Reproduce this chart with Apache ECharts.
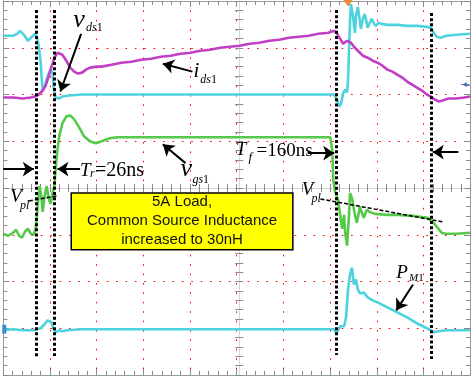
<!DOCTYPE html>
<html>
<head>
<meta charset="utf-8">
<script src="https://cdn.jsdelivr.net/npm/echarts@6/dist/echarts.min.js"></script>
<style>
  html, body { margin: 0; padding: 0; background: #fff; }
  #scope { width: 474px; height: 376px; }
</style>
</head>
<body>
<div id="scope"></div>
<script>
  // scope screen: x = time (0..474, 10 div), y = level (0..376, 8 div, top = 0)
  const vds1 = [[0,35],[5,35],[10,35],[14,33],[17,30],[21,34],[25,40],[28,37],[32,33],[34,36],[36,45],[38,62],[39,78],[40,89],
    [42,86],[44,79],[46,73],[48,69],[50,72],[51,85],[53,97],[55,99],[57,98],[60,96],[67,95],[80,94],[120,94],[200,94],
    [280,94],[336,94],[339,100],[341,106],[343,103],[345,93],[347,89],[349,92],[350,80],[351,50],[352,20],[353,3],[354,2],
    [355,15],[357,32],[358,15],[360,6],[362,20],[363,28],[365,18],[367,13],[369,22],[370,27],[372,22],[374,18],[376,22],
    [378,25],[381,22],[384,23],[390,24],[400,24],[410,25],[420,25],[430,26],[434,27],[437,32],[440,36],[444,37],[450,35],
    [460,34],[474,33]];

  const ids1 = [[0,97],[10,97],[20,98],[28,97],[32,96],[36,94],[40,90],[43,85],[46,76],[49,66],[52,57],[55,52],[57,51],
    [60,54],[64,60],[68,67],[72,71],[76,73],[80,72],[84,69],[88,67],[95,66],[100,66],[110,64],[120,62],[130,61],[140,59],
    [150,58],[160,56],[170,55],[180,53],[190,52],[200,50],[210,49],[220,47],[230,46],[240,45],[250,43],[260,42],[270,40],
    [280,39],[290,37],[300,36],[310,35],[320,33],[330,32],[336,30],[339,33],[342,38],[345,43],[347,45],[349,40],[351,38],
    [353,42],[356,46],[360,50],[365,55],[370,57],[375,60],[380,62],[385,65],[390,69],[395,71],[400,74],[405,77],[410,81],
    [415,84],[420,87],[425,90],[430,94],[434,96],[438,99],[442,101],[446,100],[452,98],[460,98],[468,97],[474,96]];

  const vgs1 = [[0,234],[5,236],[10,233],[13,230],[16,236],[19,238],[22,232],[25,229],[28,234],[31,235],[33,228],[35,205],
    [37,186],[39,200],[40,212],[42,196],[44,186],[46,198],[48,204],[50,193],[52,186],[53,170],[55,150],[57,135],[60,123],
    [64,116],[68,115],[72,119],[77,127],[82,136],[88,141],[94,143],[100,141],[108,138],[116,137],[125,137],[200,137],
    [300,137],[332,137],[334,150],[335,180],[337,192],[340,200],[342,215],[344,229],[346,215],[347,232],[349,246],[351,215],
    [352,193],[354,198],[357,215],[359,223],[362,207],[364,205],[366,218],[369,210],[372,212],[377,214],[390,215],
    [401,215],[415,216],[431,218],[436,222],[441,228],[445,233],[449,234],[460,234],[474,233]];

  const pm1 = [[0,331],[10,330],[20,331],[30,331],[34,330],[38,329],[42,325],[45,321],[47,320],[49,323],[51,330],[54,333],
    [57,331],[60,332],[65,331],[80,330],[150,330],[250,330],[336,330],[338,334],[340,331],[342,327],[344,325],[346,327],
    [348,318],[350,290],[352,275],[354,268],[356,285],[358,280],[360,290],[362,294],[364,296],[366,293],[370,298],
    [375,301],[380,303],[390,308],[400,313],[410,318],[420,324],[430,329],[434,331],[437,333],[442,332],[450,331],[474,331]];

  // cursor instants (switching edges)
  const cursorT = [33, 52, 338, 434];

  const chart = echarts.init(document.getElementById('scope'));

  const tickStyle = { color: '#8a8a8a' };
  const hiddenLabel = { show: true, inside: true, fontSize: 1, color: 'rgba(255,255,255,0)' };

  // grid-only axes: they just carry the dotted division lines
  const xGrid = {
    type: 'value', min: 0, max: 474, interval: 47.4, position: 'bottom',
    axisLine: { show: false, onZero: false }, axisTick: { show: false }, axisLabel: hiddenLabel,
    splitLine: { show: true, lineStyle: { color: 'red', width: 1, type: [1.6, 7.8] } }
  };
  const yGrid = {
    type: 'value', min: 0, max: 376, interval: 47, inverse: true, position: 'left',
    axisLine: { show: false, onZero: false }, axisTick: { show: false }, axisLabel: hiddenLabel,
    splitLine: { show: true, lineStyle: { color: 'red', width: 1, type: [1.6, 7.8] } }
  };

  const xBase = {
    type: 'value', min: 0, max: 474, interval: 47.4,
    axisLabel: { show: false },
    axisLine: { onZero: false, lineStyle: { color: '#9a9a9a', width: 1 } },
    axisTick: { inside: true, length: 6, lineStyle: tickStyle },
    minorTick: { show: true, splitNumber: 5, length: 4, lineStyle: tickStyle },
    splitLine: { show: false }
  };
  const yBase = {
    type: 'value', min: 0, max: 376, interval: 47, inverse: true,
    axisLabel: { show: false },
    axisLine: { onZero: false, lineStyle: { color: '#9a9a9a', width: 1 } },
    axisTick: { inside: true, length: 6, lineStyle: tickStyle },
    minorTick: { show: true, splitNumber: 5, length: 4, lineStyle: tickStyle },
    splitLine: { show: false }
  };

  // frame axes (bottom/top, left/right) + centre cross with ticks on both sides
  const centreLine = { onZero: false, lineStyle: { color: '#d6d6d6' } };
  const xAxes = [
    xGrid,
    Object.assign({}, xBase, { position: 'bottom' }),
    Object.assign({}, xBase, { position: 'top' }),
    Object.assign({}, xBase, { position: 'bottom', offset: -187, axisLine: centreLine,
      axisTick: { inside: true, length: 4, lineStyle: tickStyle } }),
    Object.assign({}, xBase, { position: 'bottom', offset: -187, axisLine: { show: false, onZero: false },
      axisTick: { inside: false, length: 4, lineStyle: tickStyle } })
  ];
  const yAxes = [
    yGrid,
    Object.assign({}, yBase, { position: 'left' }),
    Object.assign({}, yBase, { position: 'right' }),
    Object.assign({}, yBase, { position: 'left', offset: -236, axisLine: centreLine,
      axisTick: { inside: true, length: 4, lineStyle: tickStyle } }),
    Object.assign({}, yBase, { position: 'left', offset: -236, axisLine: { show: false, onZero: false },
      axisTick: { inside: false, length: 4, lineStyle: tickStyle } })
  ];

  const serif = '"Liberation Serif", "DejaVu Serif", serif';

  // a piece of text anchored at its left edge / vertical middle
  function txt(x, y, s, size, italic) {
    return {
      coord: [x, y], symbol: 'circle', symbolSize: 0,
      label: {
        show: true, position: [0, 0], align: 'left', verticalAlign: 'middle',
        formatter: s, fontSize: size, fontFamily: serif, color: '#000',
        fontStyle: italic ? 'italic' : 'normal',
        rich: {
          i: { fontStyle: 'italic', fontFamily: serif, fontSize: size, color: '#000' },
          n: { fontStyle: 'normal', fontFamily: serif, fontSize: size, color: '#000' }
        }
      }
    };
  }
  function seg(x1, y1, x2, y2) {
    return [{ coord: [x1, y1] }, { coord: [x2, y2] }];
  }

  const trace = (name, data, color) => ({
    name, type: 'line', data, showSymbol: false, symbol: 'none',
    lineStyle: { color, width: 2.6 }, itemStyle: { color },
    silent: true, z: 3
  });

  const option = {
    animation: false,
    grid: { left: 1, right: 1, top: 1, bottom: 1 },
    xAxis: xAxes,
    yAxis: yAxes,
    series: [
      trace('vds1', vds1, '#4dd3e0'),
      trace('ids1', ids1, '#c23ec7'),
      trace('vgs1', vgs1, '#57c94a'),
      trace('PM1', pm1, '#4dd3e0'),
      {
        // cursors and plateau guide lines
        name: 'cursors', type: 'line', data: [], silent: true, z: 5,
        markLine: {
          silent: true, symbol: ['none', 'none'], label: { show: false },
          lineStyle: { color: '#000', width: 3, type: [3, 2.2] },
          emphasis: { disabled: true },
          data: [
            seg(cursorT[0], 9, cursorT[0], 358),
            seg(cursorT[1], 9, cursorT[1], 357),
            seg(cursorT[2], 9, cursorT[2], 356),
            seg(cursorT[3], 12, cursorT[3], 360),
            [{ coord: [26, 201], lineStyle: { width: 1.5, type: [4, 2] } }, { coord: [54, 196] }],
            [{ coord: [322, 199], lineStyle: { width: 1.5, type: [4, 2] } }, { coord: [446, 222] }]
          ]
        },
        markArea: {
          silent: true,
          itemStyle: { color: '#ffff00', borderColor: '#000', borderWidth: 1.5 },
          label: {
            show: true, position: 'inside', color: '#111',
            fontFamily: '"Liberation Sans", Arial, sans-serif', fontSize: 15, lineHeight: 19,
            formatter: '5A Load,\nCommon Source Inductance\nincreased to 30nH'
          },
          emphasis: { disabled: true },
          data: [[{ coord: [69, 193] }, { coord: [294, 250] }]]
        }
      },
      {
        // arrows and labels
        name: 'notes', type: 'line', data: [], silent: true, z: 6,
        markLine: {
          silent: true, symbol: ['none', 'arrow'], symbolSize: 11, label: { show: false },
          lineStyle: { color: '#000', width: 2, type: 'solid' },
          emphasis: { disabled: true },
          data: [
            seg(79, 33, 58, 91),
            seg(192, 71, 162, 63),
            seg(185, 163, 162, 144),
            seg(416, 285, 399, 311),
            seg(0, 169, 31, 169),
            seg(78, 169, 55, 169),
            seg(309, 153, 336, 153),
            seg(462, 152, 436, 152)
          ]
        },
        markPoint: {
          silent: true,
          emphasis: { disabled: true },
          data: [
            txt(71, 19, 'v', 26, true), txt(84, 27, '{i|ds}{n|1}', 12, true),
            txt(193, 71, 'i', 21, true), txt(200, 79, '{i|ds}{n|1}', 12, true),
            txt(180, 169, 'v', 26, true), txt(192, 180, '{i|gs}{n|1}', 12, true),
            txt(78, 171, 'T', 19, true), txt(88, 174, 'r', 12, true), txt(93, 171, '=26ns', 20, false),
            txt(236, 150, 'T', 19, true), txt(249, 157, 'f', 13, true), txt(257, 151, '=160ns', 19, false),
            txt(7, 197, 'V', 19, true), txt(17, 206, 'pl', 12, true),
            txt(303, 190, 'V', 19, true), txt(313, 199, 'pl', 12, true),
            txt(399, 273, 'P', 19, true), txt(412, 279, '{i|M}{n|1}', 11, true),
            { coord: [350, 2], symbol: 'triangle', symbolRotate: 180, symbolSize: [10, 7], itemStyle: { color: '#f08a3c' }, label: { show: false } },
            { coord: [1, 330], symbol: 'rect', symbolSize: [4, 9], itemStyle: { color: '#3a8fd0' }, label: { show: false } },
            { coord: [466, 84], symbol: 'arrow', symbolRotate: 90, symbolSize: [4, 5], itemStyle: { color: '#3a6fc4' }, label: { show: false } }
          ]
        }
      },
      {
        // tail of the small channel arrow at the right edge
        name: 'marker', type: 'line', data: [], silent: true, z: 6,
        markLine: {
          silent: true, symbol: ['none', 'none'], label: { show: false },
          lineStyle: { color: '#3a6fc4', width: 1, type: 'solid' },
          emphasis: { disabled: true },
          data: [seg(473, 84, 465, 84)]
        }
      }
    ]
  };

  chart.setOption(option);
</script>
</body>
</html>
